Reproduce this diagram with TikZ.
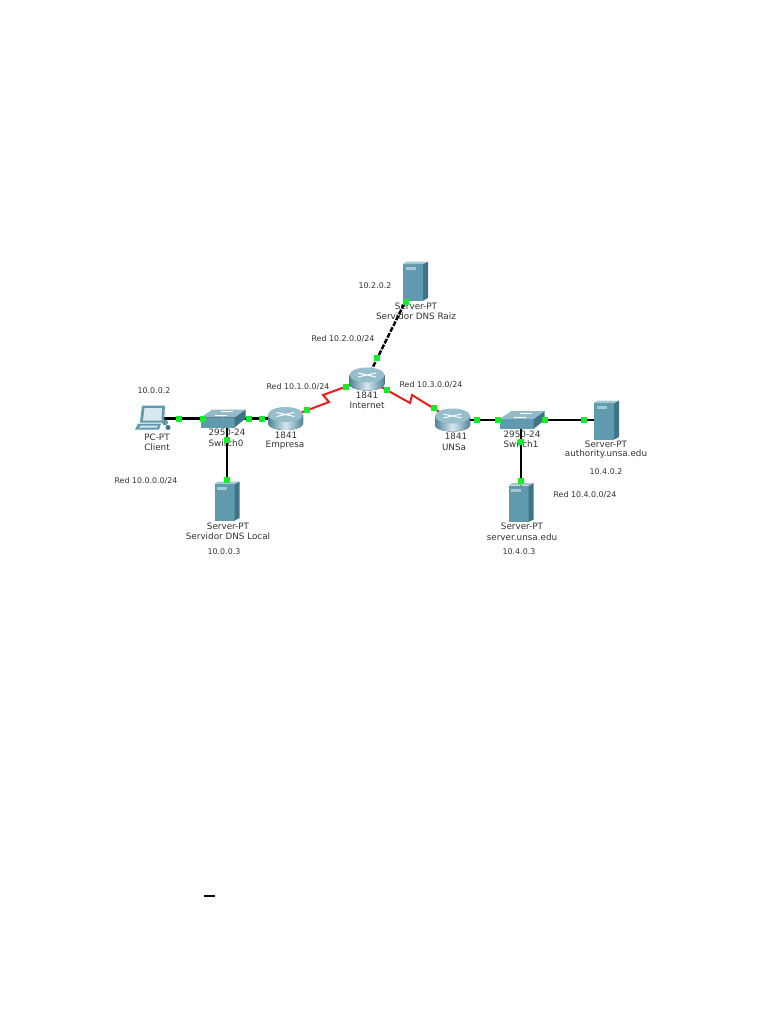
\documentclass[tikz,border=0pt]{standalone}
\usepackage{fontspec}
\setmainfont{DejaVu Sans}
\definecolor{srvfront}{HTML}{5F9AAE}
\definecolor{srvside}{HTML}{3F7488}
\definecolor{srvtop}{HTML}{A4C8D4}
\definecolor{devdark}{HTML}{4E8499}
\definecolor{devlight}{HTML}{D8E8EE}
\definecolor{portgreen}{HTML}{14EE28}
\definecolor{serialred}{HTML}{EE1C1C}
\pgfdeclarelayer{texts}
\pgfdeclarelayer{links}
\pgfsetlayers{texts,links,main}
\tikzset{
  lbl/.style={font=\fontsize{7.9}{9}\selectfont, text=black!80, inner sep=0pt},
  devlbl/.style={font=\fontsize{8.8}{10}\selectfont, text=black!80, inner sep=0pt},
  cable/.style={line width=2.2pt, black},
  serial/.style={line width=2pt, serialred},
  dashcable/.style={line width=2.4pt, black, dash pattern=on 5pt off 1.5pt},
  port/.style={fill=portgreen, minimum size=6pt, inner sep=0pt},
  device/.style={inner sep=0pt, minimum size=1pt},
  pics/server/.style={code={
    \fill[srvfront] (-12.5,-17) rectangle (7.5,19.5);
    \fill[srvside] (7.5,-17) -- (12.5,-19.5) -- (12.5,17) -- (7.5,19.5) -- cycle;
    \fill[srvtop] (-12.5,-17) -- (-9,-19.5) -- (12.5,-19.5) -- (7.5,-17) -- cycle;
    \fill[srvtop] (-10,-14) rectangle (0,-11);
  }},
  pics/router/.style={code={
    \fill[left color=devdark, right color=devdark, middle color=devlight]
      (-17.5,-4) -- (-17.5,5) arc[x radius=17.5, y radius=6.5, start angle=180, end angle=0]
      -- (17.5,-4) -- cycle;
    \fill[srvtop!85!devdark] (0,-4) ellipse[x radius=17.5, y radius=7.5];
    \draw[white, line width=1pt] (-9,-6) -- (9,-2) (-9,-2) -- (9,-6);
  }},
  pics/switchbox/.style={code={
    \fill[srvfront] (-22,-1) -- (12,-1) -- (12,9) -- (-22,9) -- cycle;
    \fill[srvside] (12,-1) -- (23,-9) -- (23,0) -- (12,9) -- cycle;
    \fill[srvtop!80!devdark] (-22,-1) -- (-10,-9) -- (23,-9) -- (12,-1) -- cycle;
    \draw[white, line width=.5pt] (-8,-3) -- (4,-3) (-2,-7) -- (10,-7);
  }},
  pics/pcbox/.style={code={
    \fill[srvfront] (-11,-13) -- (12,-13) -- (11,4) -- (-13,4) -- cycle;
    \fill[devlight] (-8.5,-10.5) -- (9,-10.5) -- (8.5,2) -- (-10,2) -- cycle;
    \fill[srvfront] (-15,5) -- (8,5) -- (6,11) -- (-18,11) -- cycle;
    \fill[devlight] (-12,7) -- (5,7) -- (4,9) -- (-14,9) -- cycle;
    \fill[srvfront] (12,4) circle (3);
    \fill[srvside] (15,9) circle (2.5);
  }}
}
\begin{document}
\begin{tikzpicture}[x=1pt, y=-1pt]
  \useasboundingbox (0,0) rectangle (768,1024);

  \node[device] (client) at (153,418.5) {};
  \node[device] (switch0) at (222.5,418.5) {};
  \node[device] (empresa) at (285.5,418.5) {};
  \node[device] (internet) at (367,379) {};
  \node[device] (unsa) at (452.5,420) {};
  \node[device] (switch1) at (521.5,420) {};
  \node[device] (srvlocal) at (227,501) {};
  \node[device] (srvraiz) at (415.5,281) {};
  \node[device] (srvauth) at (606.5,420) {};
  \node[device] (srvunsa) at (521,502.5) {};

  \pic at (client) {pcbox};
  \pic at (switch0) {switchbox};
  \pic at (switch1) {switchbox};
  \pic at (empresa) {router};
  \pic at (internet) {router};
  \pic at (unsa) {router};
  \pic at (srvlocal) {server};
  \pic at (srvraiz) {server};
  \pic at (srvauth) {server};
  \pic at (srvunsa) {server};

  % kinks of the serial links
  \coordinate (kink1) at (329,402);
  \coordinate (kink2) at (323,395);
  \coordinate (kink3) at (410,403);
  \coordinate (kink4) at (412,395);

  \begin{pgfonlayer}{links}
    \draw[cable] (client) -- (switch0);
    \draw[cable] (switch0) -- (empresa);
    \draw[cable] (switch0 -| srvlocal) -- (srvlocal);
    \draw[serial] (empresa) -- (kink1) -- (kink2) -- (internet);
    \draw[serial] (internet) -- (kink3) -- (kink4) -- (unsa);
    \draw[dashcable] (internet) -- (srvraiz);
    \draw[cable] (unsa) -- (switch1);
    \draw[cable] (switch1) -- (srvauth);
    \draw[cable] (switch1 -| srvunsa) -- (srvunsa);
  \end{pgfonlayer}

  \node[port] (p1) at (179,418.5) {};
  \node[port] (p2) at (203,418.5) {};
  \node[port] (p3) at (249,418.5) {};
  \node[port] (p4) at (262,418.5) {};
  \node[port] (p5) at (307,410) {};
  \node[port] (p6) at (346,387) {};
  \node[port] (p7) at (377,358) {};
  \node[port] (p8) at (406,302) {};
  \node[port] (p9) at (387,390) {};
  \node[port] (p10) at (434,408) {};
  \node[port] (p11) at (477,420) {};
  \node[port] (p12) at (498,420) {};
  \node[port] (p13) at (545,420) {};
  \node[port] (p14) at (584,420) {};
  \node[port] (p15) at (521,442) {};
  \node[port] (p16) at (521,481) {};
  \node[port] (p17) at (227,440) {};
  \node[port] (p18) at (227,480) {};

  \begin{pgfonlayer}{texts}
    \node[lbl] (ipclient) at (154,391) {10.0.0.2};
    \node[devlbl] (typeclient) at (157,437) {PC-PT};
    \node[devlbl] (nameclient) at (157,447) {Client};
    \node[devlbl] (typesw0) at (227,432) {2950-24};
    \node[devlbl] (namesw0) at (226,443) {Switch0};
    \node[devlbl] (typeemp) at (286,435) {1841};
    \node[devlbl] (nameemp) at (285,445) {Empresa};
    \node[lbl] (redemp) at (298,387) {Red 10.1.0.0/24};
    \node[lbl] (redlocal) at (146,481) {Red 10.0.0.0/24};
    \node[devlbl] (typelocal) at (228,526) {Server-PT};
    \node[devlbl] (namelocal) at (228,536) {Servidor DNS Local};
    \node[lbl] (iplocal) at (224,552) {10.0.0.3};
    \node[lbl] (ipraiz) at (375,286) {10.2.0.2};
    \node[devlbl] (typeraiz) at (416,306) {Server-PT};
    \node[devlbl] (nameraiz) at (416,316) {Servidor DNS Raiz};
    \node[lbl] (redraiz) at (343,339) {Red 10.2.0.0/24};
    \node[devlbl] (typeint) at (367,395) {1841};
    \node[devlbl] (nameint) at (367,405) {Internet};
    \node[lbl] (redunsa) at (431,385) {Red 10.3.0.0/24};
    \node[devlbl] (typeunsa) at (456,436) {1841};
    \node[devlbl] (nameunsa) at (454,447) {UNSa};
    \node[devlbl] (typesw1) at (522,434) {2950-24};
    \node[devlbl] (namesw1) at (521,444) {Switch1};
    \node[devlbl] (typeauth) at (606,444) {Server-PT};
    \node[devlbl] (nameauth) at (606,454) {authority.unsa.edu};
    \node[lbl] (ipauth) at (606,472) {10.4.0.2};
    \node[lbl] (redsrv) at (585,495) {Red 10.4.0.0/24};
    \node[devlbl] (typesrv) at (522,526) {Server-PT};
    \node[devlbl] (namesrv) at (522,537) {server.unsa.edu};
    \node[lbl] (ipsrv) at (519,552) {10.4.0.3};
  \end{pgfonlayer}

  \draw[line width=1.6pt] (204,896) -- (215,896);
\end{tikzpicture}
\end{document}
